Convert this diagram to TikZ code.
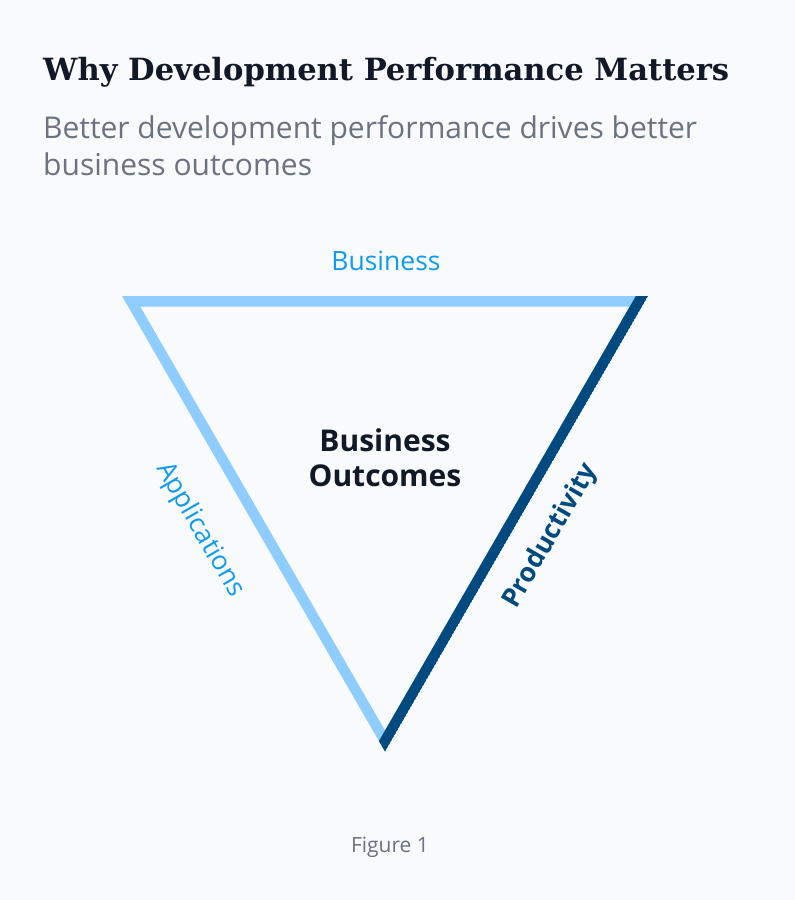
\documentclass[tikz,border=0pt]{standalone}
\usepackage{fontspec}
\setmainfont{Open Sans}
\newfontfamily\titlefont{DejaVu Serif}
\usetikzlibrary{calc,positioning}
\definecolor{bgpaper}{HTML}{F8FAFC}
\definecolor{titleink}{HTML}{111827}
\definecolor{greyink}{HTML}{6B7280}
\definecolor{skyink}{HTML}{0E9BF0}
\definecolor{skyline}{HTML}{8ECDFD}
\definecolor{navyline}{HTML}{004A7F}
\tikzset{
    side/.style={line width=10.5pt, line join=miter},
    edgelabel/.style={font=\fontsize{26.5}{30}\selectfont, inner sep=0pt},
}

\begin{document}
\begin{tikzpicture}[x=1pt,y=-1pt]
    \fill[bgpaper] (0,0) rectangle (795,900);
    \useasboundingbox (0,0) rectangle (795,900);
    % heading
    \node[anchor=base west, inner sep=0pt, text=titleink,
          font=\titlefont\bfseries\fontsize{30.6}{35}\selectfont] (title) at (43,80)
          {Why Development Performance Matters};
    \node[anchor=base west, inner sep=0pt, text=greyink, align=left,
          font=\fontsize{30}{37}\selectfont] (subtitle) at (43,175)
          {Better development performance drives better\\business outcomes};
    % outer corners and stroke centres
    \coordinate (otl) at (122,296);
    \coordinate (otr) at (648,296);
    \coordinate (obt) at (385,751.5);
    \coordinate (tl) at (131.1,301.25);
    \coordinate (tr) at (638.9,301.25);
    \coordinate (bt) at (385,741);
    \draw[side, skyline] (tl) -- (tr) -- (bt) -- cycle;
    \begin{scope}
        \clip (otl) -- (otr) -- (obt) -- cycle;
        \draw[side, navyline] ($(tr)!-0.1!(bt)$) -- ($(bt)!-0.1!(tr)$);
    \end{scope}
    % labels
    \node[edgelabel, anchor=base, text=skyink] (business) at (386,270) {Business};
    \node[edgelabel, text=skyink, rotate=-60] (apps) at (200,530) {Applications};
    \node[edgelabel, text=navyline, font=\bfseries\fontsize{26.5}{30}\selectfont,
          rotate=60] (prod) at (551,536) {Productivity};
    \node[anchor=base, inner sep=0pt, align=center, text=titleink,
          font=\bfseries\fontsize{30}{35}\selectfont] (outcomes) at (385,486)
          {Business\\Outcomes};
    \node[anchor=base, inner sep=0pt, text=greyink,
          font=\fontsize{21}{25}\selectfont] (caption) at (390,852) {Figure 1};
\end{tikzpicture}
\end{document}
